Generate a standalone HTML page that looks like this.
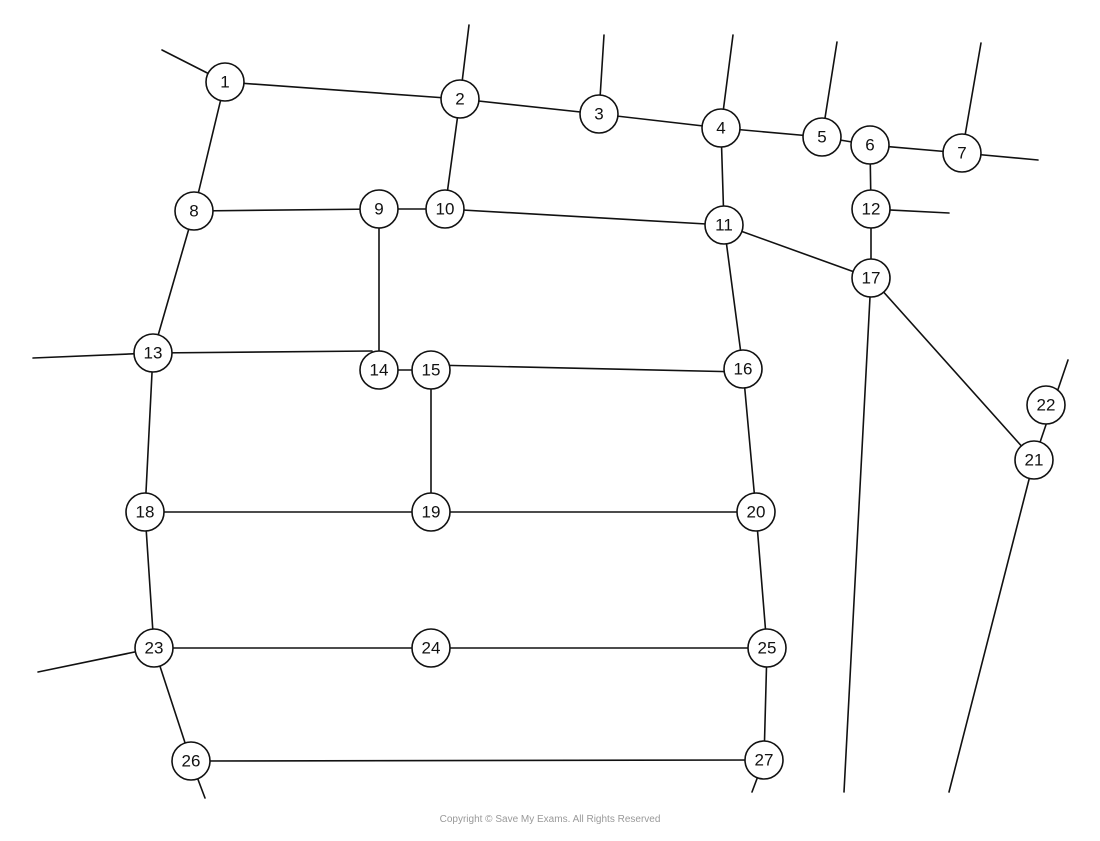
<!DOCTYPE html>
<html><head><meta charset="utf-8"><style>
html,body{margin:0;padding:0;background:#fff;}
svg{display:block;}
text{font-family:"Liberation Sans",sans-serif;}
</style></head><body>
<svg width="1100" height="841" viewBox="0 0 1100 841" xmlns="http://www.w3.org/2000/svg">
<g stroke="#111" stroke-width="1.6" fill="none" stroke-linecap="round">
<line x1="225" y1="82" x2="162" y2="50"/>
<line x1="225" y1="82" x2="460" y2="99"/>
<line x1="460" y1="99" x2="599" y2="114"/>
<line x1="599" y1="114" x2="721" y2="128"/>
<line x1="721" y1="128" x2="822" y2="137"/>
<line x1="822" y1="137" x2="870" y2="145"/>
<line x1="870" y1="145" x2="962" y2="153"/>
<line x1="962" y1="153" x2="1038" y2="160"/>
<line x1="460" y1="99" x2="469" y2="25"/>
<line x1="599" y1="114" x2="604" y2="35"/>
<line x1="721" y1="128" x2="733" y2="35"/>
<line x1="822" y1="137" x2="837" y2="42"/>
<line x1="962" y1="153" x2="981" y2="43"/>
<line x1="225" y1="82" x2="194" y2="211"/>
<line x1="460" y1="99" x2="445" y2="209"/>
<line x1="194" y1="211" x2="379" y2="209"/>
<line x1="379" y1="209" x2="445" y2="209"/>
<line x1="445" y1="209" x2="724" y2="225"/>
<line x1="721" y1="128" x2="724" y2="225"/>
<line x1="870" y1="145" x2="871" y2="209"/>
<line x1="871" y1="209" x2="949" y2="213"/>
<line x1="871" y1="209" x2="871" y2="278"/>
<line x1="724" y1="225" x2="871" y2="278"/>
<line x1="194" y1="211" x2="153" y2="353"/>
<line x1="379" y1="209" x2="379" y2="370"/>
<line x1="153" y1="353" x2="33" y2="358"/>
<line x1="153" y1="353" x2="372" y2="351"/>
<line x1="379" y1="370" x2="431" y2="370"/>
<line x1="431" y1="365" x2="743" y2="372"/>
<line x1="724" y1="225" x2="743" y2="369"/>
<line x1="431" y1="370" x2="431" y2="512"/>
<line x1="743" y1="369" x2="756" y2="512"/>
<line x1="871" y1="278" x2="844" y2="792"/>
<line x1="871" y1="278" x2="1034" y2="460"/>
<line x1="1034" y1="460" x2="1068" y2="360"/>
<line x1="1034" y1="460" x2="949" y2="792"/>
<line x1="153" y1="353" x2="145" y2="512"/>
<line x1="145" y1="512" x2="431" y2="512"/>
<line x1="431" y1="512" x2="756" y2="512"/>
<line x1="145" y1="512" x2="154" y2="648"/>
<line x1="756" y1="512" x2="767" y2="648"/>
<line x1="154" y1="648" x2="431" y2="648"/>
<line x1="431" y1="648" x2="767" y2="648"/>
<line x1="154" y1="648" x2="38" y2="672"/>
<line x1="154" y1="648" x2="191" y2="761"/>
<line x1="191" y1="761" x2="205" y2="798"/>
<line x1="767" y1="648" x2="764" y2="760"/>
<line x1="191" y1="761" x2="764" y2="760"/>
<line x1="764" y1="760" x2="752" y2="792"/>
</g>
<g stroke="#111" stroke-width="1.6" fill="#fff">
<circle cx="225" cy="82" r="19"/><circle cx="460" cy="99" r="19"/><circle cx="599" cy="114" r="19"/>
<circle cx="721" cy="128" r="19"/><circle cx="822" cy="137" r="19"/><circle cx="870" cy="145" r="19"/>
<circle cx="962" cy="153" r="19"/><circle cx="194" cy="211" r="19"/><circle cx="379" cy="209" r="19"/>
<circle cx="445" cy="209" r="19"/><circle cx="724" cy="225" r="19"/><circle cx="871" cy="209" r="19"/>
<circle cx="153" cy="353" r="19"/><circle cx="379" cy="370" r="19"/><circle cx="431" cy="370" r="19"/>
<circle cx="743" cy="369" r="19"/><circle cx="871" cy="278" r="19"/><circle cx="145" cy="512" r="19"/>
<circle cx="431" cy="512" r="19"/><circle cx="756" cy="512" r="19"/><circle cx="1034" cy="460" r="19"/>
<circle cx="1046" cy="405" r="19"/><circle cx="154" cy="648" r="19"/><circle cx="431" cy="648" r="19"/>
<circle cx="767" cy="648" r="19"/><circle cx="191" cy="761" r="19"/><circle cx="764" cy="760" r="19"/>
</g>
<g font-size="17" fill="#111" text-anchor="middle" dominant-baseline="central">
<text x="225" y="82">1</text><text x="460" y="99">2</text><text x="599" y="114">3</text>
<text x="721" y="128">4</text><text x="822" y="137">5</text><text x="870" y="145">6</text>
<text x="962" y="153">7</text><text x="194" y="211">8</text><text x="379" y="209">9</text>
<text x="445" y="209">10</text><text x="724" y="225">11</text><text x="871" y="209">12</text>
<text x="153" y="353">13</text><text x="379" y="370">14</text><text x="431" y="370">15</text>
<text x="743" y="369">16</text><text x="871" y="278">17</text><text x="145" y="512">18</text>
<text x="431" y="512">19</text><text x="756" y="512">20</text><text x="1034" y="460">21</text>
<text x="1046" y="405">22</text><text x="154" y="648">23</text><text x="431" y="648">24</text>
<text x="767" y="648">25</text><text x="191" y="761">26</text><text x="764" y="760">27</text>
</g>
<text x="550" y="822" font-size="10" fill="#999" text-anchor="middle">Copyright © Save My Exams. All Rights Reserved</text>
</svg>
</body></html>
